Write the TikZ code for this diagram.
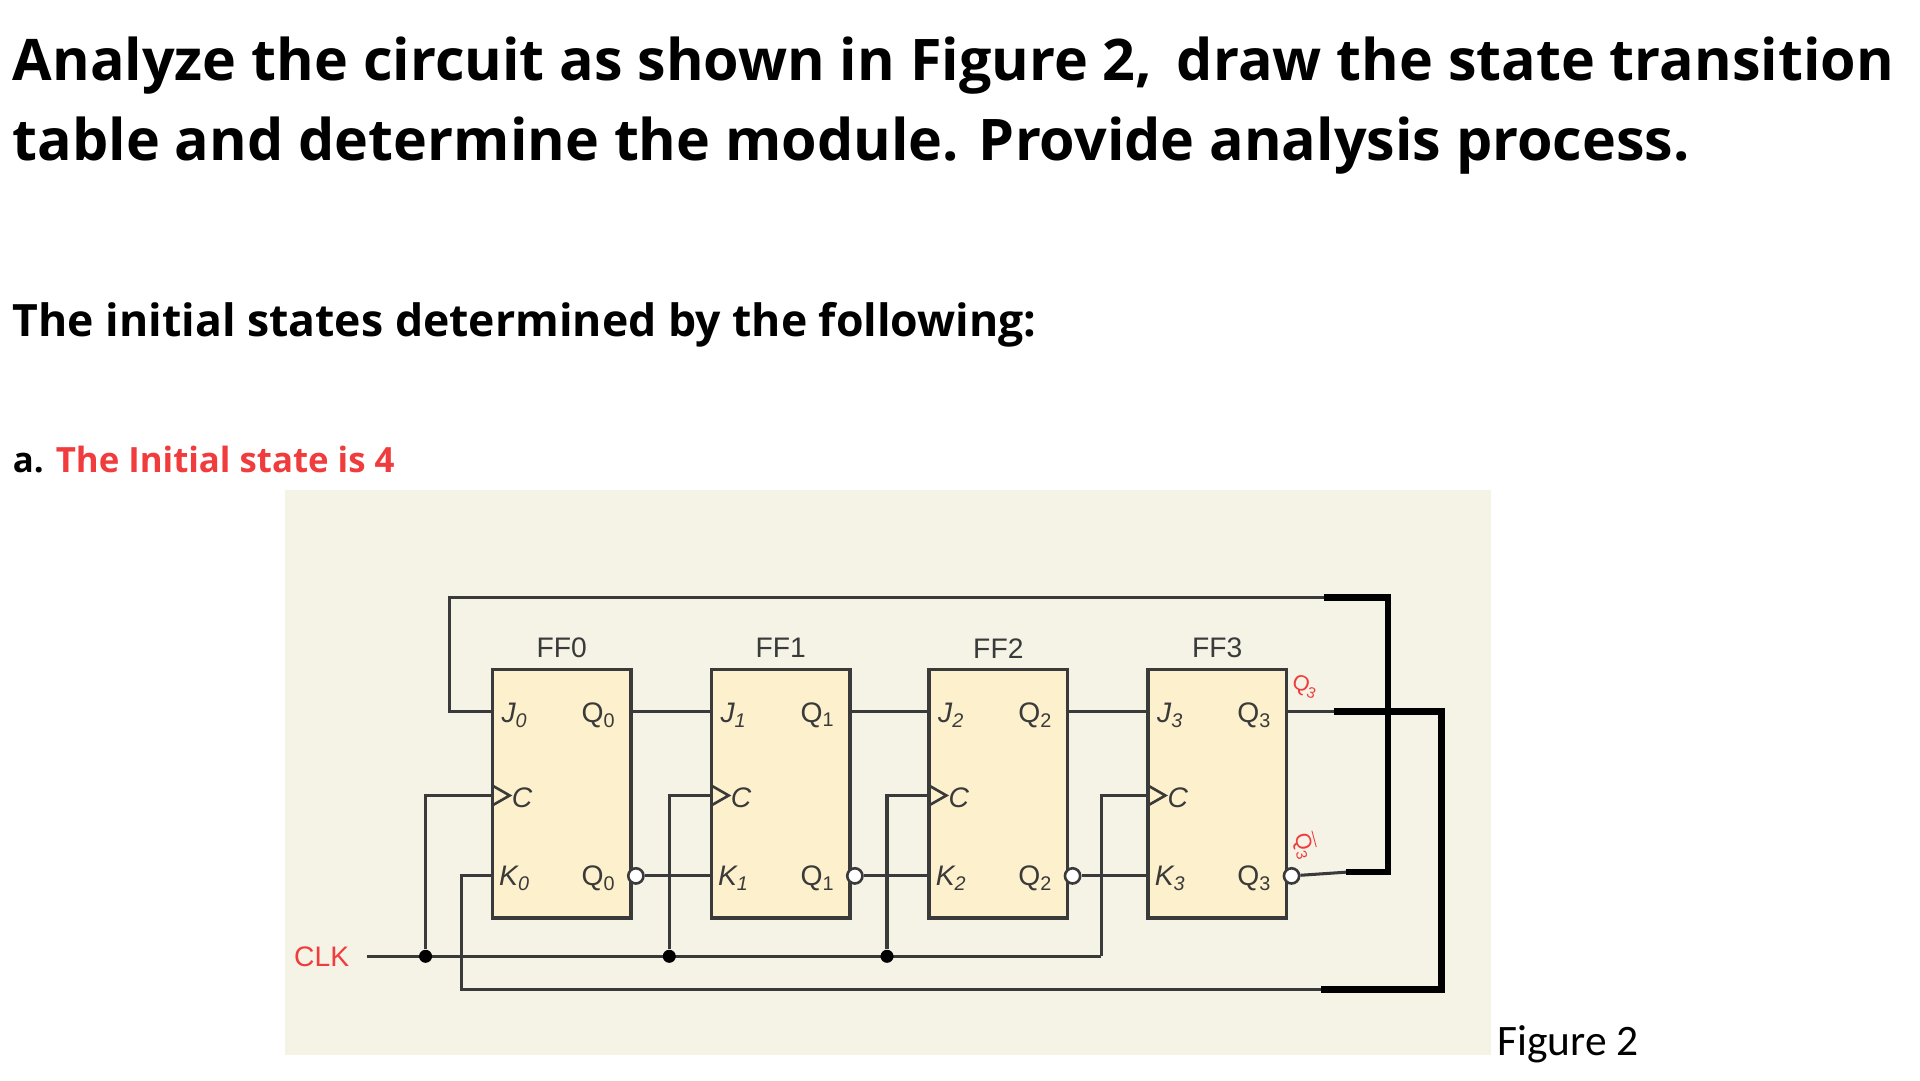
\documentclass[tikz,border=0pt]{standalone}
\usepackage{fontspec}
\setmainfont{Open Sans}
\newfontfamily\arialf{Liberation Sans}
\newfontfamily\figf{Carlito}
\definecolor{bgc}{HTML}{F5F3E6}
\definecolor{boxc}{HTML}{FDF0CC}
\definecolor{wirec}{HTML}{3A3A3A}
\definecolor{redc}{HTML}{F03C3C}
\begin{document}
\begin{tikzpicture}[x=0.02cm,y=-0.02cm,
  ff/.style={draw=wirec,line width=1.6pt,fill=boxc},
  wire/.style={draw=wirec,line width=1.4pt},
  thick/.style={draw=black,line width=3pt},
  pin/.style={font=\arialf\itshape\fontsize{13}{13}\selectfont,text=wirec,inner sep=0pt},
  fflabel/.style={font=\arialf\fontsize{13}{13}\selectfont,text=wirec},
  bub/.style={circle,draw=wirec,fill=white,line width=1.2pt,inner sep=0pt,minimum size=7pt},
  dot/.style={circle,fill=black,inner sep=0pt,minimum size=6pt}]
\useasboundingbox (0,0) rectangle (1552,873);
\fill[white] (0,0) rectangle (1552,873);
% texts
\node[anchor=base west,inner sep=0pt,font=\bfseries\fontsize{26.4}{26.4}\selectfont] (t1) at (10,65) {Analyze the circuit as shown in Figure 2,\, draw the state transition};
\node[anchor=base west,inner sep=0pt,font=\bfseries\fontsize{26.4}{26.4}\selectfont] (t2) at (10,130) {table and determine the module. Provide analysis process.};
\node[anchor=base west,inner sep=0pt,font=\bfseries\fontsize{20.5}{20.5}\selectfont] (t3) at (10,272) {The initial states determined by the following:};
\node[anchor=base west,inner sep=0pt,font=\bfseries\fontsize{16}{16}\selectfont] (t4) at (10,382) {a. \textcolor{redc}{The Initial state is 4}};
\node[anchor=base west,inner sep=0pt,font=\figf\fontsize{20}{20}\selectfont] (fig) at (1210,853) {Figure 2};
% background
\fill[bgc] (230,396) rectangle (1205,853);
% flip-flops
\foreach \i/\x in {0/398,1/575,2/751,3/928}{
  \draw[ff] (\x,541) rectangle (\x+112,742);
  \node[fflabel] (lab\i) at (\x+56,524) {FF\i};
  \coordinate (J\i) at (\x,575);
  \coordinate (C\i) at (\x,643);
  \coordinate (K\i) at (\x,708);
  \coordinate (Q\i) at (\x+112,575);
  \node[bub] (NQ\i) at (\x+116,708) {};
  \node[pin] at (\x+18,578) {J\textsubscript{\i}};
  \node[pin,font=\arialf\fontsize{13}{13}\selectfont] at (\x+86,578) {Q\textsubscript{\i}};
  \node[pin] at (\x+18,710) {K\textsubscript{\i}};
  \node[pin,font=\arialf\fontsize{13}{13}\selectfont] at (\x+86,710) {Q\textsubscript{\i}};
  \node[pin] at (\x+24,645) {C};
  \draw[wirec,line width=1.2pt] (\x,635) -- (\x+14,643) -- (\x,651);
}
% chain wires
\draw[wire] (Q0) -- (J1); \draw[wire] (Q1) -- (J2); \draw[wire] (Q2) -- (J3);
\draw[wire] (NQ0) -- (K1); \draw[wire] (NQ1) -- (K2); \draw[wire] (NQ2) -- (K3);
% clock
\node[font=\arialf\fontsize{13}{13}\selectfont,text=redc] (clk) at (260,773) {CLK};
\coordinate (cend) at (890,773);
\draw[wire] (clk.east)+(8,0) -- (cend);
\node[dot] (d0) at (344,773) {};
\node[dot] (d1) at (541,773) {};
\node[dot] (d2) at (717,773) {};
\draw[wire] (d0) |- (C0);
\draw[wire] (d1) |- (C1);
\draw[wire] (d2) |- (C2);
\draw[wire] (cend) |- (C3);
% feedback J0 = Qbar3
\coordinate (a1) at (1085,483);
\coordinate (a2) at (1122,483);
\coordinate (a3) at (1122,705);
\coordinate (a4) at (1088,705);
\draw[wire] (J0) -- (363,575) -- (363,483) -- (a1);
\draw[wire] (NQ3) -- (a4);
\draw[thick] (1070,483) -- (a2) -- (a3) -- (a4);
% feedback K0 = Q3
\coordinate (b1) at (1165,575);
\coordinate (b2) at (1165,800);
\draw[wire] (Q3) -- (1078,575);
\draw[thick] (1078,575) -- (b1) -- (b2) -- (1068,800);
\draw[wire] (1068,800) -- (373,800) -- (373,708) -- (K0);
% red labels
\node[font=\arialf\fontsize{10}{10}\selectfont,text=redc,rotate=-20,inner sep=1pt] (rq) at (1055,555) {Q\textsubscript{3}};
\node[font=\arialf\fontsize{10}{10}\selectfont,text=redc,rotate=-75,inner sep=1pt] (rqb) at (1055,684) {$\overline{\mbox{Q}}$\textsubscript{3}};
\end{tikzpicture}
\end{document}
